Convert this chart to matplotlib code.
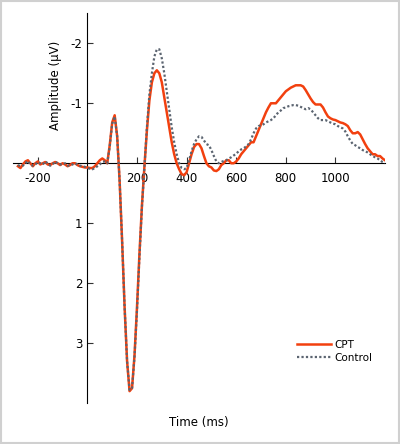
import matplotlib.pyplot as plt
import numpy as np
from matplotlib.patches import Rectangle

plt.rcParams['axes.unicode_minus'] = False

# ERP waveforms, 10 ms steps from -280 to 1200 ms (negative plotted up)
times = list(range(-280, 1201, 10))

cpt = [0.05, 0.08, 0.02, -0.03, -0.05, 0.0, 0.05, 0.0, -0.03, 0.02,
       0.0, -0.02, 0.02, 0.03, 0.0, -0.02, 0.0, 0.03, 0.0, 0.02,
       0.05, 0.03, 0.0, 0.0, 0.03, 0.05, 0.06, 0.07, 0.07, 0.08,
       0.08, 0.05, 0.0, -0.05, -0.08, -0.05, 0.0,
       -0.3, -0.68, -0.8, -0.45, 0.3, 1.3, 2.4, 3.3, 3.8, 3.75,
       3.2, 2.4, 1.5, 0.7, 0.05, -0.55, -1.05, -1.35, -1.5, -1.55,
       -1.5, -1.35, -1.1, -0.85, -0.6, -0.35, -0.15, 0.0, 0.1, 0.18,
       0.2, 0.15, 0.0, -0.15, -0.27, -0.32, -0.32, -0.25, -0.12, 0.0,
       0.05, 0.07, 0.12, 0.13, 0.1, 0.03, 0.0, -0.05, -0.05, 0.0,
       0.0, -0.03, -0.08, -0.15, -0.2, -0.25, -0.3, -0.35, -0.35, -0.45,
       -0.55, -0.65, -0.75, -0.85, -0.93, -1.0, -1.0, -1.0, -1.05, -1.1,
       -1.15, -1.2, -1.23, -1.26, -1.28, -1.3, -1.3, -1.3, -1.28, -1.22,
       -1.15, -1.08, -1.02, -0.98, -0.98, -0.98, -0.93, -0.85, -0.78, -0.75,
       -0.73, -0.72, -0.7, -0.68, -0.67, -0.65, -0.62, -0.55, -0.5, -0.5,
       -0.52, -0.48, -0.4, -0.32, -0.25, -0.2, -0.15, -0.15, -0.12, -0.12,
       -0.08, -0.05]

control = [0.03, 0.05, 0.04, 0.0, -0.04, 0.02, 0.04, 0.02, -0.02, 0.0,
           0.02, -0.03, 0.0, 0.04, 0.02, -0.03, 0.0, 0.02, 0.02, 0.0,
           0.04, 0.04, 0.02, 0.0, 0.02, 0.04, 0.05, 0.06, 0.08, 0.09,
           0.1, 0.08, 0.05, 0.02, -0.02, -0.03, 0.0,
           -0.28, -0.66, -0.78, -0.45, 0.3, 1.3, 2.4, 3.3, 3.78, 3.75,
           3.22, 2.45, 1.55, 0.72, 0.05, -0.6, -1.15, -1.5, -1.78, -1.9,
           -1.9, -1.75, -1.5, -1.2, -0.9, -0.6, -0.35, -0.15, 0.0, 0.08,
           0.1, 0.08, -0.05, -0.2, -0.32, -0.4, -0.45, -0.44, -0.38, -0.32,
           -0.3, -0.22, -0.12, -0.03, 0.0, -0.02, -0.04, -0.05, -0.08, -0.1,
           -0.13, -0.16, -0.2, -0.23, -0.25, -0.28, -0.32, -0.4, -0.5, -0.58,
           -0.62, -0.63, -0.65, -0.68, -0.7, -0.72, -0.75, -0.8, -0.85, -0.88,
           -0.92, -0.93, -0.95, -0.96, -0.97, -0.97, -0.96, -0.94, -0.92, -0.9,
           -0.92, -0.9, -0.85, -0.8, -0.75, -0.72, -0.72, -0.72, -0.7, -0.68,
           -0.66, -0.65, -0.62, -0.6, -0.58, -0.53, -0.45, -0.38, -0.32, -0.3,
           -0.27, -0.25, -0.22, -0.2, -0.18, -0.15, -0.12, -0.1, -0.08, -0.05,
           -0.02, 0.0]

x_ticks = [-200, 200, 400, 600, 800, 1000]
y_ticks = [-2, -1, 1, 2, 3]

fig = plt.figure(figsize=(4, 4.44), dpi=100)
ax = fig.add_axes([0.0325, 0.092, 0.93, 0.878])

ax.plot(times, cpt, color='#f2400f', lw=1.8, label='CPT', zorder=3)
ax.plot(times, control, color='#5b6470', lw=1.6, ls=(0, (1, 1)), label='Control', zorder=4)

ax.set_xlim(-300, 1200)
ax.set_ylim(4.0, -2.5)
ax.spines['left'].set_position(('data', 0))
ax.spines['bottom'].set_position(('data', 0))
ax.spines['top'].set_visible(False)
ax.spines['right'].set_visible(False)
ax.set_xticks(x_ticks)
ax.set_yticks(y_ticks)
ax.tick_params(axis='both', direction='in', labelsize=8.5, length=4, color='#333333')
ax.tick_params(axis='x', pad=6)

ax.text(-128, -1.3, 'Amplitude (µV)', rotation=90, ha='center', va='center', fontsize=8.5)
ax.text(450, 4.32, 'Time (ms)', ha='center', va='center', fontsize=8.5)

ax.legend(loc='lower right', bbox_to_anchor=(0.99, 0.08), frameon=False, fontsize=7.5,
          handlelength=3.2, handletextpad=0.3, labelspacing=0.25)

fig.patches.append(Rectangle((0.003, 0.003), 0.994, 0.994, transform=fig.transFigure,
                             fill=False, edgecolor='#d0d0d0', lw=1.5))

plt.savefig('out.png')
